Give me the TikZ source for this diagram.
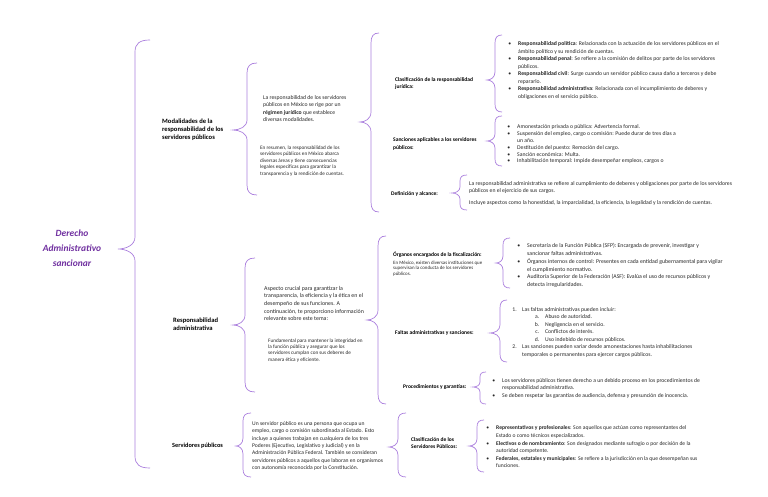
\documentclass[tikz,border=0pt]{standalone}
\usepackage{fontspec}
\setmainfont{Carlito}
\definecolor{brc}{RGB}{172,128,222}
\definecolor{ttl}{RGB}{112,48,160}
\definecolor{txc}{RGB}{40,40,40}
\newcommand\bl{\makebox[0pt][r]{\textbullet\hspace{7pt}}}
\newcommand\nm[1]{\makebox[0pt][r]{#1\hspace{5.5pt}}}
\newcommand\sbi[1]{\hspace*{23pt}\makebox[0pt][r]{#1\hspace{6pt}}}
\newcommand\cbrace[7]{%
  \draw[brace] ({#1+#6},#2) .. controls ({#1+0.3*#6},#2) and (#1,{#2+0.3*#7}) .. (#1,{#2+#7})
    -- (#1,{#4-#7}) .. controls (#1,{#4-0.3*#7}) and ({#3+0.45*(#1-#3)},#4) .. (#3,#4)
    .. controls ({#3+0.45*(#1-#3)},#4) and (#1,{#4+0.3*#7}) .. (#1,{#4+#7})
    -- (#1,{#5-#7}) .. controls (#1,{#5-0.3*#7}) and ({#1+0.3*#6},#5) .. ({#1+#6},#5);}
\begin{document}
\begin{tikzpicture}[x=1pt,y=-1pt,
  brace/.style={draw=brc,line width=0.7pt},
  lab/.style={inner sep=0,anchor=west,align=left,font=\fontsize{6.6}{8}\selectfont\bfseries},
  sublab/.style={inner sep=0,anchor=west,align=left,font=\fontsize{5.5}{7.2}\selectfont\bfseries},
  txt/.style={inner sep=0,anchor=west,align=left,text=txc,font=\fontsize{5.7}{7.5}\selectfont},
  smtxt/.style={inner sep=0,anchor=west,align=left,text=txc,font=\fontsize{5.2}{6.5}\selectfont},
  tiny/.style={inner sep=0,anchor=west,align=left,text=txc,font=\fontsize{4.9}{5.8}\selectfont}]
\fill[white] (0,0) rectangle (768,497);
\path[use as bounding box] (0,0) rectangle (768,497);

% title
\node[inner sep=0,align=center,text=ttl,font=\fontsize{9.5}{15}\selectfont\bfseries\itshape] (title) at (72,248)
  {Derecho\\Administrativo\\sancionar};
\cbrace{135}{40}{118}{249}{468}{15}{12}

% ---------- Modalidades ----------
\node[lab] (mod) at (162,130) {Modalidades de la\\responsabilidad de los\\servidores públicos};
\cbrace{247}{63}{233}{130}{195}{10}{10}
\node[txt] (modA) at (263,108.5) {La responsabilidad de los servidores\\públicos en México se rige por un\\\textbf{régimen jurídico} que establece\\diversas modalidades.};
\node[smtxt] (modB) at (260,161) {En resumen, la responsabilidad de los\\servidores públicos en México abarca\\diversas áreas y tiene consecuencias\\legales específicas para garantizar la\\transparencia y la rendición de cuentas.};
\cbrace{371}{33}{360}{122}{212}{8}{10}

\node[sublab] (clas) at (395,83.5) {Clasificación de la responsabilidad\\jurídica:};
\cbrace{495}{35}{487}{80}{112}{7}{8}
\node[txt] (clasL) at (518,70.5) {\bl\textbf{Responsabilidad política}: Relacionada con la actuación de los servidores públicos en el\\ámbito político y su rendición de cuentas.\\
\bl\textbf{Responsabilidad penal}: Se refiere a la comisión de delitos por parte de los servidores\\públicos.\\
\bl\textbf{Responsabilidad civil}: Surge cuando un servidor público causa daño a terceros y debe\\repararlo.\\
\bl\textbf{Responsabilidad administrativa}: Relacionada con el incumplimiento de deberes y\\obligaciones en el servicio público.};

\node[sublab] (sanc) at (393,144) {Sanciones aplicables a los servidores\\públicos:};
\cbrace{495}{116}{487}{141}{166}{7}{7}
\node[txt,font=\fontsize{5.7}{6.8}\selectfont] (sancL) at (517,144.5) {\bl Amonestación privada o pública: Advertencia formal.\\
\bl Suspensión del empleo, cargo o comisión: Puede durar de tres días a\\un año.\\
\bl Destitución del puesto: Remoción del cargo.\\
\bl Sanción económica: Multa.\\
\bl Inhabilitación temporal: Impide desempeñar empleos, cargos o};

\node[sublab] (defi) at (391,194) {Definición y alcance:};
\cbrace{460}{175}{452}{193}{210}{7}{6}
\node[txt] (defiT) at (469,193.5) {La responsabilidad administrativa se refiere al cumplimiento de deberes y obligaciones por parte de los servidores\\públicos en el ejercicio de sus cargos.\\[4.5pt]
Incluye aspectos como la honestidad, la imparcialidad, la eficiencia, la legalidad y la rendición de cuentas.};

% ---------- Responsabilidad administrativa ----------
\node[lab] (resp) at (173,324) {Responsabilidad\\administrativa};
\cbrace{245}{258}{233}{325}{392}{10}{10}
\node[txt,font=\fontsize{5.9}{7.7}\selectfont] (respA) at (264,303.5) {Aspecto crucial para garantizar la\\transparencia, la eficiencia y la ética en el\\desempeño de sus funciones. A\\continuación, te proporciono información\\relevante sobre este tema:};
\node[tiny,font=\fontsize{5.2}{6.2}\selectfont] (respB) at (268,350.5) {Fundamental para mantener la integridad en\\la función pública y asegurar que los\\servidores cumplan con sus deberes de\\manera ética y eficiente.};
\cbrace{378}{236}{367}{320}{404}{8}{10}

\node[sublab] (org) at (393,255) {Órganos encargados de la fiscalización:};
\node[tiny] (orgT) at (393,268.5) {En México, existen diversas instituciones que\\supervisan la conducta de los servidores\\públicos.};
\cbrace{503}{238}{496}{263}{288}{7}{7}
\node[txt,font=\fontsize{5.8}{7.8}\selectfont] (orgL) at (527,265.5) {\bl Secretaría de la Función Pública (SFP): Encargada de prevenir, investigar y\\sancionar faltas administrativas.\\
\bl Órganos internos de control: Presentes en cada entidad gubernamental para vigilar\\el cumplimiento normativo.\\
\bl Auditoría Superior de la Federación (ASF): Evalúa el uso de recursos públicos y\\detecta irregularidades.};

\node[sublab] (falt) at (395,333) {Faltas administrativas y sanciones:};
\cbrace{500}{300}{490}{333}{362}{7}{8}
\node[txt] (faltL) at (522,332.5) {\nm{1.}Las faltas administrativas pueden incluir:\\
\sbi{a.}Abuso de autoridad.\\
\sbi{b.}Negligencia en el servicio.\\
\sbi{c.}Conflictos de interés.\\
\sbi{d.}Uso indebido de recursos públicos.\\
\nm{2.}Las sanciones pueden variar desde amonestaciones hasta inhabilitaciones\\temporales o permanentes para ejercer cargos públicos.};

\node[sublab] (proc) at (403,387) {Procedimientos y garantías:};
\cbrace{480}{372}{473}{387}{404}{6}{5}
\node[txt] (procL) at (502,388.5) {\bl Los servidores públicos tienen derecho a un debido proceso en los procedimientos de\\responsabilidad administrativa.\\
\bl Se deben respetar las garantías de audiencia, defensa y presunción de inocencia.};

% ---------- Servidores públicos ----------
\node[lab,font=\fontsize{6.3}{8}\selectfont\bfseries] (serv) at (172,446) {Servidores públicos};
\cbrace{243}{413}{236}{446}{477}{8}{8}
\node[txt,font=\fontsize{5.6}{7.3}\selectfont] (servT) at (252,446) {Un servidor público es una persona que ocupa un\\empleo, cargo o comisión subordinada al Estado. Esto\\incluye a quienes trabajan en cualquiera de los tres\\Poderes (Ejecutivo, Legislativo y Judicial) y en la\\Administración Pública Federal. También se consideran\\servidores públicos a aquellos que laboran en organismos\\con autonomía reconocida por la Constitución.};
\cbrace{398}{413}{389}{447}{477}{8}{8}
\node[sublab] (clsv) at (411,443) {Clasificación de los\\Servidores Públicos:};
\cbrace{477}{420}{469}{446}{472}{7}{7}
\node[txt,font=\fontsize{5.6}{7.6}\selectfont] (clsvL) at (496,447) {\bl\textbf{Representativos y profesionales}: Son aquellos que actúan como representantes del\\Estado o como técnicos especializados.\\
\bl\textbf{Electivos o de nombramiento}: Son designados mediante sufragio o por decisión de la\\autoridad competente.\\
\bl\textbf{Federales, estatales y municipales}: Se refiere a la jurisdicción en la que desempeñan sus\\funciones.};
\end{tikzpicture}
\end{document}
